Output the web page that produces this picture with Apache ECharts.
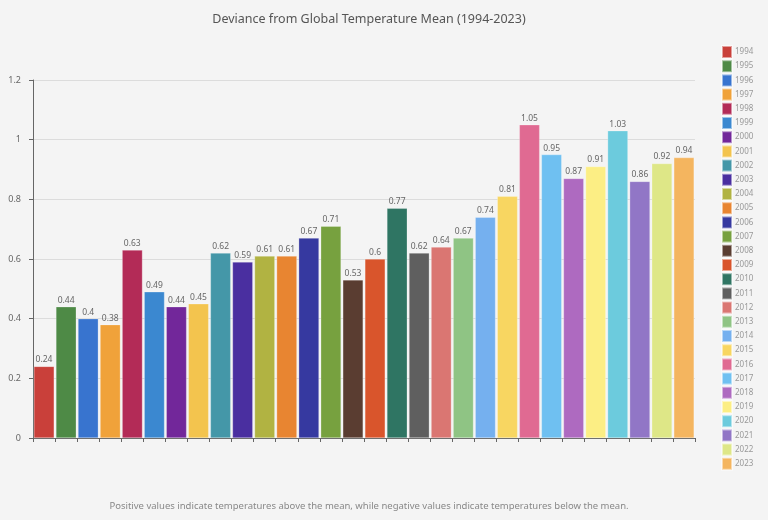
<!DOCTYPE html>
<html><head><meta charset="utf-8">
<script src="https://cdn.jsdelivr.net/npm/echarts@6/dist/echarts.min.js"></script>
<style>html,body{margin:0;padding:0;background:#f4f4f4}#c{width:768px;height:520px}</style>
</head><body><div id="c"></div>
<script>
const years = ["1994","1995","1996","1997","1998","1999","2000","2001","2002","2003","2004","2005","2006","2007","2008","2009","2010","2011","2012","2013","2014","2015","2016","2017","2018","2019","2020","2021","2022","2023"];
const values = [0.24,0.44,0.4,0.38,0.63,0.49,0.44,0.45,0.62,0.59,0.61,0.61,0.67,0.71,0.53,0.6,0.77,0.62,0.64,0.67,0.74,0.81,1.05,0.95,0.87,0.91,1.03,0.86,0.92,0.94];
const colors = ["#c9403a","#4e8a46","#3874cf","#f0a23a","#b32b57","#3b88d0","#72279a","#f3c44e","#4497a8","#4a2fa0","#b1b342","#e88531","#3639a0","#77a13f","#5a3d31","#d9552c","#2f7563","#5f5f5f","#da7672","#8fc484","#75b0ef","#f8d661","#e06a92","#6fc0f1","#ae6ac0","#fcee84","#6ccbdd","#9176c6","#dee787","#f4b55f"];
const yTicks = {min:0, max:1.2, interval:0.2};
const titleText = "Deviance from Global Temperature Mean (1994-2023)";
const noteText = "Positive values indicate temperatures above the mean, while negative values indicate temperatures below the mean.";

const font = "Noto Sans";
const series = years.map((y,i)=>({
  name: y, type: 'bar', stack: 'all',
  barCategoryGap: '8%',
  itemStyle: {color: colors[i], borderColor: 'rgba(255,255,255,0.5)', borderWidth: 0.5},
  label: {show: true, position: 'top', color: '#666', fontSize: 8.5, fontFamily: font, distance: 2},
  data: years.map((_,j)=> j===i ? values[i] : null)
}));
const chart = echarts.init(document.getElementById('c'));
chart.setOption({
  backgroundColor: '#f4f4f4',
  color: colors,
  animation: false,
  title: [
    {text: titleText, left: 364, textAlign: 'center', top: 8, textStyle: {fontSize: 12.5, fontWeight: 'normal', color: '#555', fontFamily: font}},
    {text: noteText, left: 364, textAlign: 'center', top: 496, textStyle: {fontSize: 9.5, fontWeight: 'normal', color: '#888', fontFamily: font}}
  ],
  legend: {
    orient: 'vertical', left: 721, top: 45, bottom: 0, itemWidth: 10, itemHeight: 12, itemGap: 0.2,
    icon: 'rect', padding: 0,
    textStyle: {fontSize: 8, lineHeight: 12, color: '#999', fontFamily: font, padding: [0,0,0,-2]},
    data: years
  },
  grid: {left: 33, right: 73, top: 80, bottom: 82},
  xAxis: {
    type: 'category', data: years,
    axisLine: {lineStyle: {color: '#666'}},
    axisTick: {show: true, interval: 0, alignWithLabel: false, lineStyle: {color: '#666'}, length: 4},
    axisLabel: {show: false}
  },
  yAxis: {
    type: 'value', min: yTicks.min, max: yTicks.max, interval: yTicks.interval,
    axisLine: {show: true, lineStyle: {color: '#666'}},
    axisTick: {show: true, length: 4, lineStyle: {color: '#666'}},
    axisLabel: {color: '#666', fontSize: 9, fontFamily: font, margin: 12},
    splitLine: {lineStyle: {color: '#dcdcdc'}}
  },
  series: series
});
</script></body></html>
